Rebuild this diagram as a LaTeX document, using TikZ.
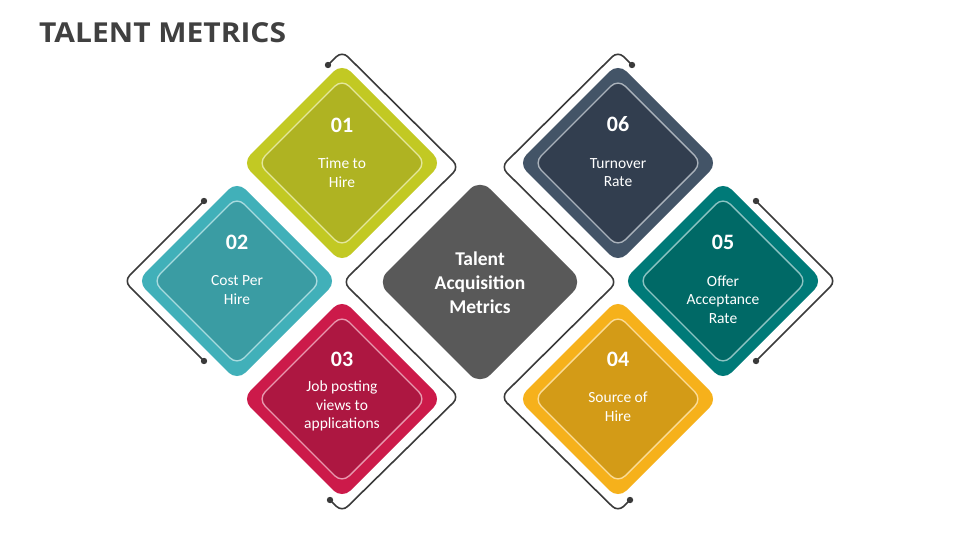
\documentclass[tikz,border=0pt]{standalone}
\usepackage{fontspec}
\setmainfont{Carlito}
\newfontfamily\titlefont{Open Sans}
\definecolor{c1o}{HTML}{C2C923}\definecolor{c1i}{HTML}{AFB322}
\definecolor{c2o}{HTML}{41B0B9}\definecolor{c2i}{HTML}{3A9CA3}
\definecolor{c3o}{HTML}{CC1A4A}\definecolor{c3i}{HTML}{AD1741}
\definecolor{c4o}{HTML}{F6B11B}\definecolor{c4i}{HTML}{D39B17}
\definecolor{c5o}{HTML}{007A78}\definecolor{c5i}{HTML}{006966}
\definecolor{c6o}{HTML}{435467}\definecolor{c6i}{HTML}{323E4F}
\definecolor{cc}{HTML}{595959}
\definecolor{ln}{HTML}{3A3A3A}
\definecolor{tt}{HTML}{404040}
\newcommand\tile[4]{%
  \fill[#3, rounded corners=12pt] (#1,#2-100) -- (#1+100,#2) -- (#1,#2+100) -- (#1-100,#2) -- cycle;
  \filldraw[fill=#4, draw=#3!45!white, line width=1.4pt, rounded corners=10pt] (#1,#2-84) -- (#1+84,#2) -- (#1,#2+84) -- (#1-84,#2) -- cycle;
}
\begin{document}
\begin{tikzpicture}[x=1pt,y=-1pt,
  numtxt/.style={text=white, inner sep=0pt, font=\bfseries\fontsize{22}{24}\selectfont},
  bodytxt/.style={text=white, inner sep=0pt, align=center, font=\fontsize{15.5}{18.7}\selectfont},
  wire/.style={ln, line width=1.6pt, rounded corners=8pt},
  dotc/.style={fill=ln}]
\useasboundingbox (0,0) rectangle (960,540);
\fill[white] (0,0) rectangle (960,540);

% connector wires
\draw[wire] (328,65) -- (342,51) -- (459,167) -- (343,282) -- (459,397) -- (342,512) -- (330,500);
\draw[wire] (632,65) -- (618,51) -- (501,167) -- (617,282) -- (501,397) -- (618,512) -- (630,500);
\draw[wire] (204,201) -- (124,281) -- (204,361);
\draw[wire] (756,201) -- (836,281) -- (756,361);
\foreach \p in {(328,65),(330,500),(632,65),(630,500),(204,201),(204,361),(756,201),(756,361)}
  \fill[dotc] \p circle (3.2pt);

% tiles
\tile{342}{163}{c1o}{c1i}
\tile{237}{281}{c2o}{c2i}
\tile{342}{399}{c3o}{c3i}
\tile{618}{399}{c4o}{c4i}
\tile{723}{281}{c5o}{c5i}
\tile{618}{163}{c6o}{c6i}
\fill[cc, rounded corners=14pt] (480,179) -- (583,282) -- (480,385) -- (377,282) -- cycle;

% title
\node[anchor=base west, inner sep=0pt, text=tt, font=\titlefont\bfseries\fontsize{27.5}{32}\selectfont] (title) at (39,42.3) {\scalebox{1.09}[1]{TALENT METRICS}};

% texts
\node[numtxt] (n1) at (342,125.5) {01};
\node[bodytxt] (t1) at (342,172.5) {Time to\\Hire};
\node[numtxt] (n2) at (237,242.5) {02};
\node[bodytxt] (t2) at (237,290) {Cost Per\\Hire};
\node[numtxt] (n3) at (342,359.5) {03};
\node[bodytxt] (t3) at (342,406) {Job posting\\views to\\applications};
\node[numtxt] (n4) at (618,359) {04};
\node[bodytxt] (t4) at (618,406.5) {Source of\\Hire};
\node[numtxt] (n5) at (723,242.5) {05};
\node[bodytxt] (t5) at (723,299.5) {Offer\\Acceptance\\Rate};
\node[numtxt] (n6) at (618,124) {06};
\node[bodytxt] (t6) at (618,172.5) {Turnover\\Rate};
\node[text=white, inner sep=0pt, align=center, font=\bfseries\fontsize{19.5}{24}\selectfont] (tc) at (480,282.7) {Talent\\Acquisition\\Metrics};
\end{tikzpicture}
\end{document}
